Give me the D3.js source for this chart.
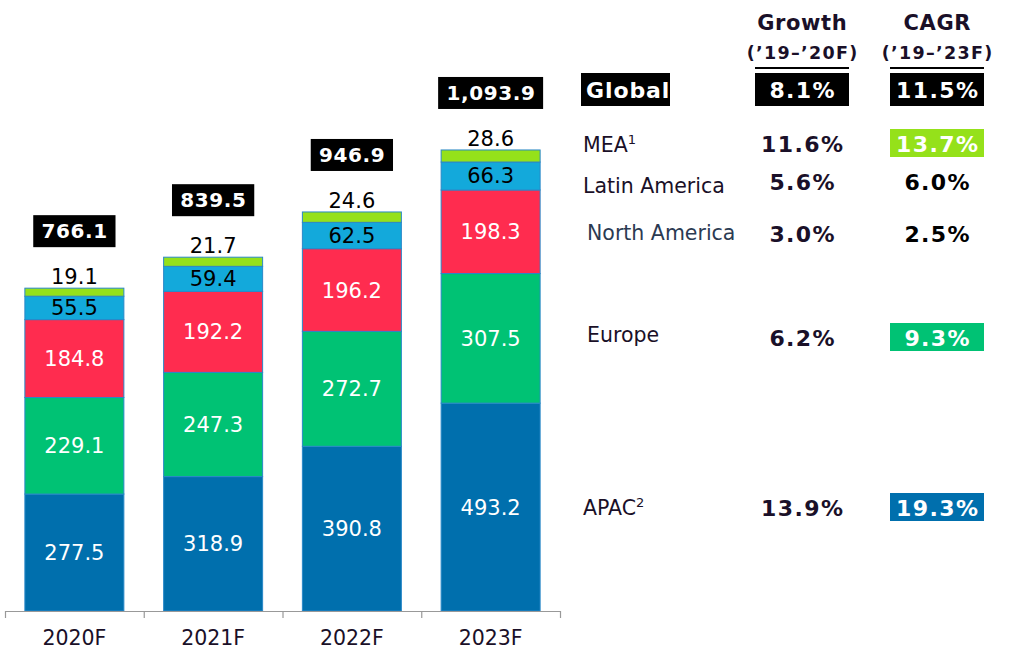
<!DOCTYPE html>
<html>
<head>
<meta charset="utf-8">
<script src="https://cdn.jsdelivr.net/npm/d3@7"></script>
<style>
  body { margin: 0; background: #fff; }
  svg { font-family: "DejaVu Sans", Verdana, sans-serif; }
</style>
</head>
<body>
<svg id="chart" width="1028" height="660"></svg>
<script>
// data
var years = ["2020F", "2021F", "2022F", "2023F"];
var regions = ["APAC", "Europe", "North America", "Latin America", "MEA"];
var apac = [277.5, 318.9, 390.8, 493.2];
var europe = [229.1, 247.3, 272.7, 307.5];
var northAmerica = [184.8, 192.2, 196.2, 198.3];
var latinAmerica = [55.5, 59.4, 62.5, 66.3];
var mea = [19.1, 21.7, 24.6, 28.6];
var totals = ["766.1", "839.5", "946.9", "1,093.9"];

var tableRegions = ["MEA", "Latin America", "North America", "Europe", "APAC"];
var tableSup = ["1", "", "", "", "2"];
var growth = ["11.6%", "5.6%", "3.0%", "6.2%", "13.9%"];
var cagr = ["13.7%", "6.0%", "2.5%", "9.3%", "19.3%"];
var globalGrowth = "8.1%";
var globalCagr = "11.5%";

var colors = {
  "APAC": "#006fad",
  "Europe": "#00c274",
  "North America": "#ff2c4f",
  "Latin America": "#13a9db",
  "MEA": "#95e11a"
};
// which CAGR cells get a coloured box
var cagrHighlight = {"MEA": true, "Europe": true, "APAC": true};

var svg = d3.select("#chart");
var ink = "#1a1028";

var series = {
  "APAC": apac, "Europe": europe, "North America": northAmerica,
  "Latin America": latinAmerica, "MEA": mea
};
var rows = years.map(function(y, i) {
  var r = {year: y};
  regions.forEach(function(k) { r[k] = series[k][i]; });
  return r;
});

var x = d3.scaleBand().domain(years).range([5, 560]).paddingInner(0.2865).paddingOuter(0.14325);
var y = d3.scaleLinear().domain([0, 1100]).range([611, 147.4]);

var stack = d3.stack().keys(regions)(rows);

var layer = svg.selectAll("g.layer")
  .data(stack)
  .enter().append("g")
  .attr("class", "layer")
  .attr("fill", function(d) { return colors[d.key]; });

layer.selectAll("rect")
  .data(function(d) { return d; })
  .enter().append("rect")
  .attr("x", function(d) { return x(d.data.year); })
  .attr("y", function(d) { return y(d[1]); })
  .attr("width", x.bandwidth())
  .attr("height", function(d) { return y(d[0]) - y(d[1]); })
  .attr("stroke", "#2a88c8")
  .attr("stroke-width", 1);

// segment labels
stack.forEach(function(s) {
  s.forEach(function(d) {
    var v = d[1] - d[0];
    var cx = x(d.data.year) + x.bandwidth() / 2;
    var ty, fill;
    if (s.key === "MEA") {
      ty = y(d[1]) - 4;
      fill = "#000";
    } else {
      ty = (y(d[0]) + y(d[1])) / 2 + 7.5;
      fill = s.key === "Latin America" ? "#000" : "#fff";
    }
    svg.append("text")
      .attr("x", cx).attr("y", ty)
      .attr("text-anchor", "middle")
      .attr("font-size", 21)
      .attr("fill", fill)
      .text(v.toFixed(1));
  });
});

// bold text helper: Verdana bold runs wider than DejaVu, so spread it a little
function boldText(xx, yy, str, size, fill, spacing) {
  return svg.append("text")
    .attr("x", xx + spacing / 2).attr("y", yy)
    .attr("text-anchor", "middle")
    .attr("font-size", size)
    .attr("font-weight", "bold")
    .attr("letter-spacing", spacing)
    .attr("fill", fill)
    .text(str);
}

// total boxes
var topLayer = stack[stack.length - 1];
topLayer.forEach(function(d, i) {
  var cx = x(d.data.year) + x.bandwidth() / 2;
  var cy = y(d[1]) - 57;
  var t = boldText(cx, cy + 7, totals[i], 20, "#fff", 0.6);
  var w = t.node().getComputedTextLength() + 16;
  svg.insert("rect", function() { return t.node(); })
    .attr("x", cx - w / 2).attr("y", cy - 16)
    .attr("width", w).attr("height", 32)
    .attr("fill", "#000");
});

// axis
var xEdge = d3.scaleLinear().domain([0, years.length]).range([5, 560]);
var edgeAxis = svg.append("g")
  .attr("transform", "translate(0,611)")
  .call(d3.axisBottom(xEdge).ticks(years.length).tickFormat("").tickSize(7).tickSizeOuter(0));
edgeAxis.selectAll("path, line").attr("stroke", "#999").attr("stroke-width", 1.2);

var labelAxis = svg.append("g")
  .attr("transform", "translate(0,611)")
  .call(d3.axisBottom(x).tickSize(0).tickPadding(19));
labelAxis.select(".domain").remove();
labelAxis.selectAll("text")
  .attr("font-family", "DejaVu Sans, Verdana, sans-serif")
  .attr("font-size", 20.5)
  .attr("fill", ink);

// right-hand table
var colG = 802, colC = 937, boxW = 94;
boldText(colG, 30, "Growth", 21, ink, 0.6);
boldText(colC, 30, "CAGR", 21, ink, 0.6);
boldText(colG, 59, "(\u201919\u2013\u201920F)", 17.5, ink, 1.3);
boldText(colC, 59, "(\u201919\u2013\u201923F)", 17.5, ink, 1.3);
[colG, colC].forEach(function(c) {
  svg.append("line").attr("x1", c - boxW / 2).attr("x2", c + boxW / 2)
    .attr("y1", 68).attr("y2", 68).attr("stroke", "#000").attr("stroke-width", 2);
});

// global row
svg.append("rect").attr("x", 581).attr("y", 73).attr("width", 89).attr("height", 33).attr("fill", "#000");
svg.append("text").attr("x", 586).attr("y", 98).attr("font-size", 22).attr("font-weight", "bold")
  .attr("letter-spacing", 0.9).attr("fill", "#fff").text("Global");
[[colG, globalGrowth], [colC, globalCagr]].forEach(function(p) {
  svg.append("rect").attr("x", p[0] - boxW / 2).attr("y", 73).attr("width", boxW).attr("height", 33).attr("fill", "#000");
  boldText(p[0], 98, p[1], 22, "#fff", 1.4);
});

// region rows (label baselines, value baselines)
var labelY = [152, 193, 240, 342, 515];
var valueY = [152, 190, 242, 346, 516];
tableRegions.forEach(function(r, i) {
  var lbl = svg.append("text").attr("x", r === "North America" || r === "Europe" ? 587 : 583)
    .attr("y", labelY[i])
    .attr("font-size", 20.5).attr("fill", r === "North America" ? "#2b3a52" : ink)
    .text(r);
  if (tableSup[i]) {
    lbl.append("tspan").attr("font-size", 13).attr("dy", -8).text(tableSup[i]);
  }
  var yy = valueY[i];
  boldText(colG, yy, growth[i], 22, ink, 1.4);
  if (cagrHighlight[r]) {
    svg.append("rect").attr("x", colC - boxW / 2).attr("y", yy - 23).attr("width", boxW).attr("height", 28)
      .attr("fill", colors[r]);
  }
  boldText(colC, yy, cagr[i], 22, cagrHighlight[r] ? "#fff" : "#000", 1.4);
});
</script>
</body>
</html>
